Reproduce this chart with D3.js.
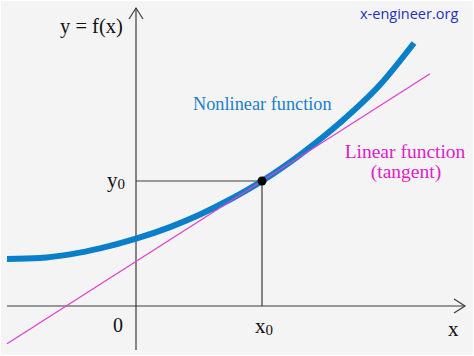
<!DOCTYPE html>
<html><head><meta charset="utf-8">
<script src="https://cdn.jsdelivr.net/npm/d3@7"></script>
<style>html,body{margin:0;padding:0;background:#fff;}svg{display:block;}</style>
</head><body>
<script>
// Nonlinear function f(x) (arbitrary units)
const curveX = [-2.58, -1.92, -1.32, -0.72, 0, 0.68, 1.28, 1.88, 2.52, 3.28, 4.08, 4.88, 5.56];
const curveY = [0.94, 0.96, 1.032, 1.152, 1.346, 1.578, 1.83, 2.13, 2.50, 3.024, 3.664, 4.424, 5.26];
// Tangent line at x0
const tangentX = [-2.58, 5.88];
const tangentY = [-0.754, 4.644];
const x0 = 2.52, y0 = 2.50;
const xAxisExtent = [-2.58, 6.58];
const yAxisExtent = [-0.88, 5.96];

const W = 474, H = 356;
const svg = d3.select("body").append("svg").attr("width", W).attr("height", H);
svg.append("rect").attr("width", W).attr("height", H).attr("fill", "#fff");
svg.append("rect").attr("x", 1).attr("y", 1).attr("width", W - 2).attr("height", H - 2).attr("fill", "#f4f4f4");

const x = d3.scaleLinear().domain(xAxisExtent).range([7, 465]);
const y = d3.scaleLinear().domain(yAxisExtent).range([350, 8]);

const axisColor = "#3a3a3a";
svg.append("line").attr("x1", x(xAxisExtent[0])).attr("x2", x(xAxisExtent[1]))
  .attr("y1", y(0)).attr("y2", y(0)).attr("stroke", axisColor).attr("stroke-width", 1.2);
svg.append("line").attr("x1", x(0)).attr("x2", x(0))
  .attr("y1", y(yAxisExtent[0])).attr("y2", y(yAxisExtent[1])).attr("stroke", axisColor).attr("stroke-width", 1.2);
const ax = x(xAxisExtent[1]), ay = y(0);
svg.append("path").attr("d", `M${ax-11},${ay-7}L${ax},${ay}L${ax-11},${ay+7}`)
  .attr("fill", "none").attr("stroke", axisColor).attr("stroke-width", 1.2);
const bx = x(0), by = y(yAxisExtent[1]);
svg.append("path").attr("d", `M${bx-7},${by+11}L${bx},${by}L${bx+7},${by+11}`)
  .attr("fill", "none").attr("stroke", axisColor).attr("stroke-width", 1.2);

svg.append("line").attr("x1", x(0)).attr("x2", x(x0)).attr("y1", y(y0)).attr("y2", y(y0))
  .attr("stroke", axisColor).attr("stroke-width", 1.2);
svg.append("line").attr("x1", x(x0)).attr("x2", x(x0)).attr("y1", y(y0)).attr("y2", y(0))
  .attr("stroke", axisColor).attr("stroke-width", 1.2);

const line = d3.line().x(d => x(d[0])).y(d => y(d[1])).curve(d3.curveMonotoneX);
svg.append("path").datum(curveX.map((v, i) => [v, curveY[i]]))
  .attr("d", line).attr("fill", "none").attr("stroke", "#0a7fc9").attr("stroke-width", 6);

svg.append("path").datum(tangentX.map((v, i) => [v, tangentY[i]]))
  .attr("d", d3.line().x(d => x(d[0])).y(d => y(d[1])))
  .attr("fill", "none").attr("stroke", "#e040d0").attr("stroke-width", 1.3);

svg.append("circle").attr("cx", x(x0)).attr("cy", y(y0)).attr("r", 4.5).attr("fill", "#000");

const serif = "Liberation Serif, Times New Roman, serif";
function txt(t, px, py, size, color, anchor) {
  return svg.append("text").attr("x", px).attr("y", py).attr("font-family", serif)
    .attr("font-size", size).attr("fill", color).attr("text-anchor", anchor || "start").text(t);
}
txt("y = f(x)", 60, 33, 20.5, "#111");
txt("Nonlinear function", 193, 110, 18.3, "#1a7fc8");
txt("Linear function", 405, 158, 19.5, "#e020c8", "middle");
txt("(tangent)", 406, 178, 19.5, "#e020c8", "middle");
txt("0", 113, 332, 20, "#111");
txt("x", 448, 336, 21, "#111");

const yl = txt("y", 107, 187, 21, "#111");
yl.append("tspan").attr("font-size", 15).attr("dy", 2).text("0");
const xl = txt("x", 255, 333, 21, "#111");
xl.append("tspan").attr("font-size", 15).attr("dy", 2).text("0");

svg.append("text").attr("x", 360).attr("y", 19).attr("font-family", "Open Sans, Liberation Sans, sans-serif")
  .attr("font-size", 14.5).attr("fill", "#2233bb").text("x-engineer.org");
</script>
</body></html>
